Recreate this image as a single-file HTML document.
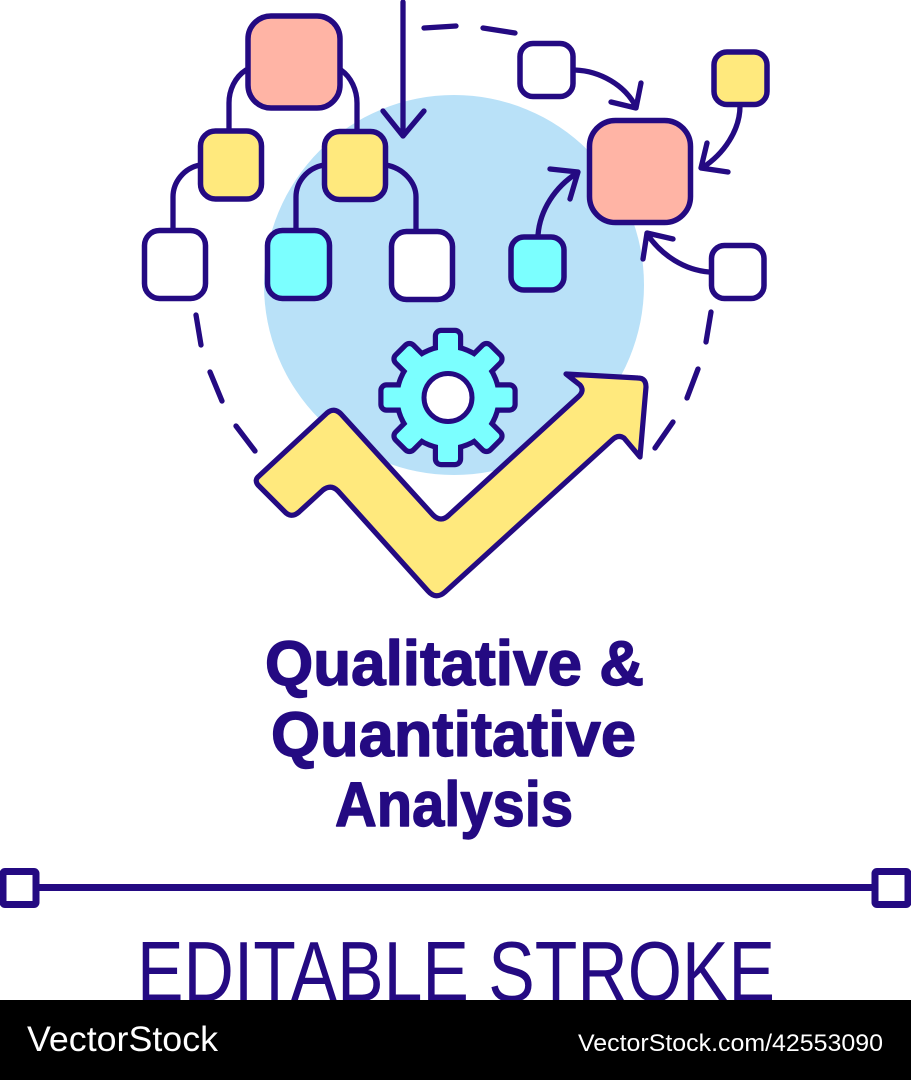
<!DOCTYPE html>
<html>
<head>
<meta charset="utf-8">
<style>
html,body{margin:0;padding:0;background:#fff;width:911px;height:1080px;overflow:hidden}
svg{display:block}
</style>
</head>
<body>
<svg xmlns="http://www.w3.org/2000/svg" width="911" height="1080" viewBox="0 0 911 1080">
<rect width="911" height="1080" fill="#fff"/>
<circle cx="454" cy="285" r="190" fill="#B9E1F8"/>

<g fill="none" stroke="#240A82" stroke-width="5.300" stroke-linecap="round" stroke-linejoin="round">
  <!-- tree connectors -->
  <path d="M246 70C235 77 229 90 229 103V130"/>
  <path d="M341 70C351 77 357 90 357 103V131"/>
  <path d="M200 165C184 168 173 182 173 197V230"/>
  <path d="M324 165C307 168 296 182 296 197V230"/>
  <path d="M386 165C403 168 416 182 416 197V231"/>
  <!-- down arrow -->
  <path d="M403 2V136M383 111L403 136L424 111"/>
  <!-- dashed ring -->
  <path d="M424 28L456 26M483 28L515 33"/>
  <path d="M196 315L201 345M210 372L222 401M236 426L255 451"/>
  <path d="M711 312L706 342M698 369L687 398M673 422L655 448"/>
  <!-- arrows into pink node -->
  <path d="M575 70C600 71 625 85 636 107M611 102L636 108L641 83"/>
  <path d="M740 106C740 130 724 154 702 168M707 143L701 168L728 172"/>
  <path d="M538 235C540 210 555 187 577 173M550 169L578 172L570 199"/>
  <path d="M709 272C685 270 662 256 647 234M673 239L647 233L643 259"/>
</g>

<g stroke="#240A82" stroke-width="5.500">
  <rect x="248" y="16" width="92" height="92" rx="23" fill="#FFB4A5"/>
  <rect x="200.500" y="131" width="61" height="68" rx="15" fill="#FFE97D"/>
  <rect x="324.500" y="131.500" width="61" height="68" rx="15" fill="#FFE97D"/>
  <rect x="144.500" y="230.500" width="61" height="68" rx="15" fill="#fff"/>
  <rect x="267.500" y="230.500" width="62" height="68" rx="15" fill="#7BFFFF"/>
  <rect x="391.500" y="231.500" width="61" height="68" rx="15" fill="#fff"/>
  <rect x="520" y="43.500" width="53" height="53" rx="13" fill="#fff"/>
  <rect x="714" y="52" width="53" height="52.500" rx="13" fill="#FFE97D"/>
  <rect x="589.500" y="120.500" width="101" height="102" rx="26" fill="#FFB4A5"/>
  <rect x="511" y="237" width="53" height="53" rx="13" fill="#7BFFFF"/>
  <rect x="711.500" y="245.500" width="52.500" height="53" rx="13" fill="#fff"/>
</g>

<!-- gear -->
<g transform="translate(448 397.500)">
  <g fill="#240A82" stroke="#240A82" stroke-width="10.400" stroke-linejoin="round">
    <circle r="48.500"/>
    <rect x="-10" y="-64.500" width="20" height="30" rx="3"/>
    <rect x="-10" y="-64.500" width="20" height="30" rx="3" transform="rotate(45)"/>
    <rect x="-10" y="-64.500" width="20" height="30" rx="3" transform="rotate(90)"/>
    <rect x="-10" y="-64.500" width="20" height="30" rx="3" transform="rotate(135)"/>
    <rect x="-10" y="-64.500" width="20" height="30" rx="3" transform="rotate(180)"/>
    <rect x="-10" y="-64.500" width="20" height="30" rx="3" transform="rotate(225)"/>
    <rect x="-10" y="-64.500" width="20" height="30" rx="3" transform="rotate(270)"/>
    <rect x="-10" y="-64.500" width="20" height="30" rx="3" transform="rotate(315)"/>
  </g>
  <g fill="#7BFFFF">
    <circle r="48.500"/>
    <rect x="-10" y="-64.500" width="20" height="30" rx="3"/>
    <rect x="-10" y="-64.500" width="20" height="30" rx="3" transform="rotate(45)"/>
    <rect x="-10" y="-64.500" width="20" height="30" rx="3" transform="rotate(90)"/>
    <rect x="-10" y="-64.500" width="20" height="30" rx="3" transform="rotate(135)"/>
    <rect x="-10" y="-64.500" width="20" height="30" rx="3" transform="rotate(180)"/>
    <rect x="-10" y="-64.500" width="20" height="30" rx="3" transform="rotate(225)"/>
    <rect x="-10" y="-64.500" width="20" height="30" rx="3" transform="rotate(270)"/>
    <rect x="-10" y="-64.500" width="20" height="30" rx="3" transform="rotate(315)"/>
  </g>
  <circle r="24" fill="#fff" stroke="#240A82" stroke-width="5"/>
</g>

<!-- zigzag arrow -->
<path d="M259 476L327 413Q334 407 341 414L433 515Q441 523 449 515L578 397Q585 391 580 385L566 374L638 378Q646 378 646 387L640 457L624 438Q618 434 612 440L445 592Q436 600 428 591L338 491Q331 484 323 490L299 512Q291 519 284 511L258 485Q254 480 259 476Z" fill="#FFE97D" stroke="#240A82" stroke-width="5.200" stroke-linejoin="round"/>

<!-- title -->
<g font-family="'Liberation Sans',sans-serif" font-weight="700" font-size="63" fill="#240A82" stroke="#240A82" stroke-width="1.400" stroke-linejoin="round">
  <text x="265" y="685" textLength="379" lengthAdjust="spacingAndGlyphs">Qualitative &amp;</text>
  <text x="271" y="756" textLength="365" lengthAdjust="spacingAndGlyphs">Quantitative</text>
  <text x="335" y="826" textLength="238" lengthAdjust="spacingAndGlyphs">Analysis</text>
</g>

<!-- editable stroke bar -->
<rect x="36" y="884" width="838" height="7" fill="#240A82"/>
<rect x="3" y="871.500" width="33" height="33" rx="2" fill="#fff" stroke="#240A82" stroke-width="7"/>
<rect x="875" y="871.500" width="33" height="33" rx="2" fill="#fff" stroke="#240A82" stroke-width="7"/>

<text x="137" y="1001" textLength="638" lengthAdjust="spacingAndGlyphs" font-family="'Liberation Sans',sans-serif" font-size="85" fill="#240A82">EDITABLE STROKE</text>

<!-- footer -->
<rect x="0" y="1000" width="911" height="80" fill="#000"/>
<text x="27" y="1051" textLength="191" lengthAdjust="spacingAndGlyphs" font-family="'Liberation Sans',sans-serif" font-size="35" fill="#fff">VectorStock</text>
<text x="578" y="1051" textLength="305" lengthAdjust="spacingAndGlyphs" font-family="'Liberation Sans',sans-serif" font-size="24" fill="#fff">VectorStock.com/42553090</text>
</svg>
</body>
</html>
